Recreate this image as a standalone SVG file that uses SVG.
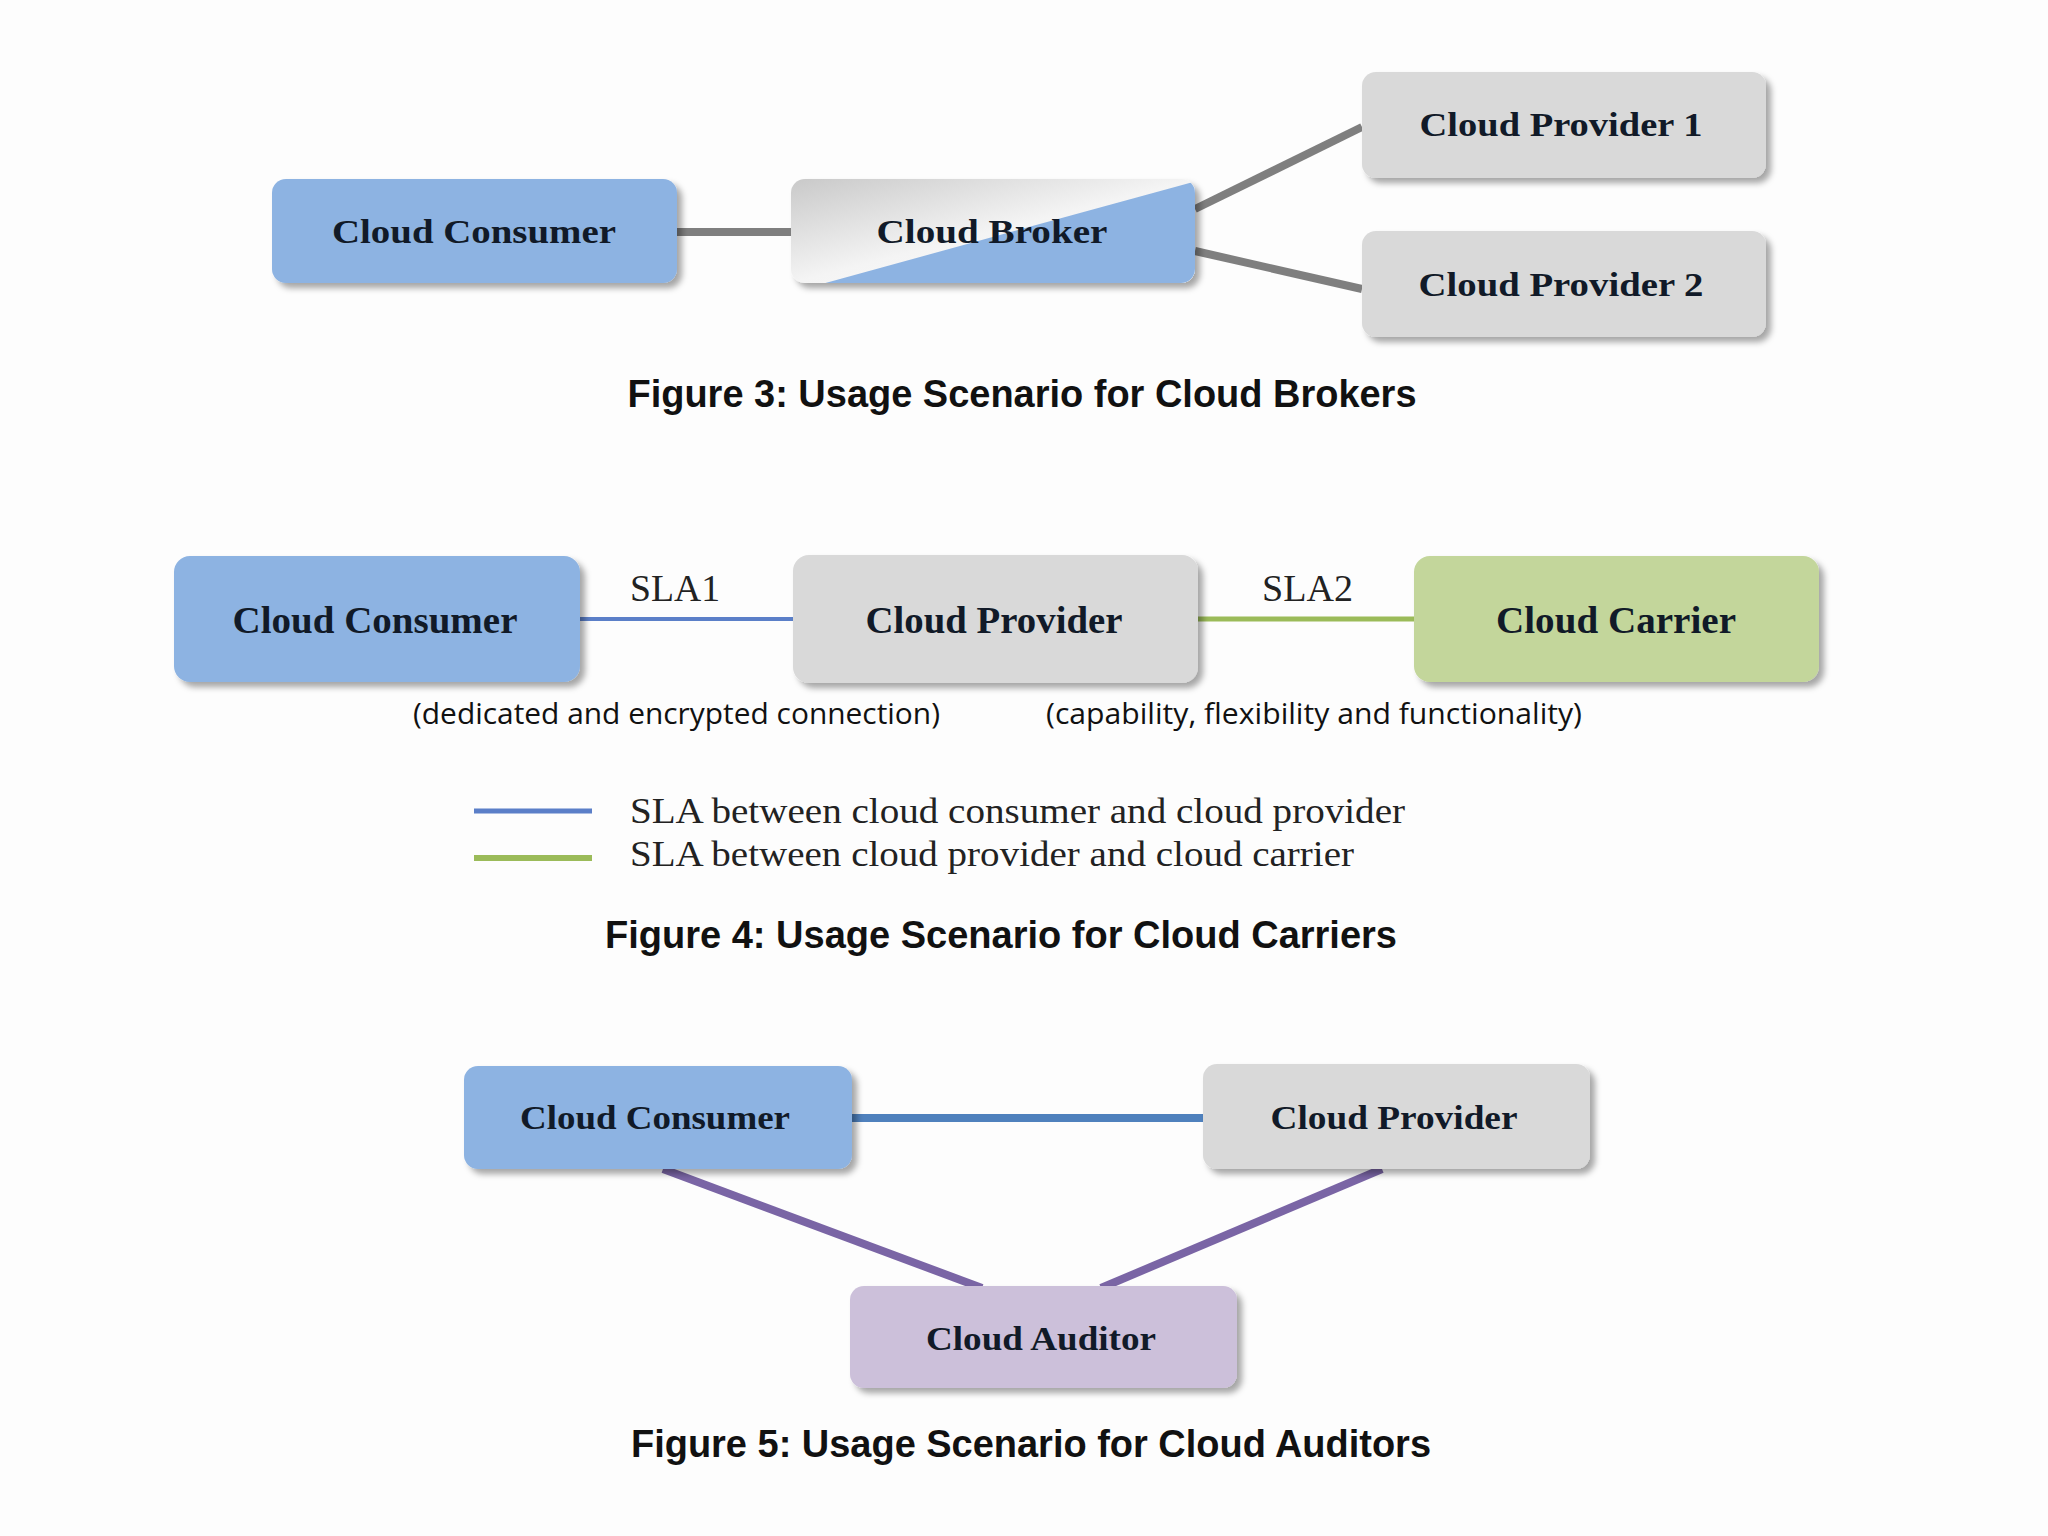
<svg xmlns="http://www.w3.org/2000/svg" width="2048" height="1536" viewBox="0 0 2048 1536">
<defs>
<filter id="sh" x="-10%" y="-20%" width="125%" height="150%">
<feDropShadow dx="5" dy="5" stdDeviation="3" flood-color="#000" flood-opacity="0.35"/>
</filter>
<linearGradient id="gBroker" x1="0" y1="0" x2="1" y2="1">
<stop offset="0" stop-color="#c9c9c9"/>
<stop offset="0.5" stop-color="#f4f4f4"/>
<stop offset="1" stop-color="#ffffff"/>
</linearGradient>
<clipPath id="cBroker"><rect x="791" y="179" width="404" height="104" rx="14"/></clipPath>
<style>
.blue{fill:#8db3e2}
.gray{fill:#d9d9d9}
.green{fill:#c3d69b}
.purple{fill:#ccc0da}
.nt{font-family:"Liberation Serif",serif;font-weight:bold;fill:#111a28;text-anchor:middle}
.cap{font-family:"Liberation Sans",Arial,sans-serif;font-weight:bold;font-size:38px;fill:#111;text-anchor:middle}
.sla{font-family:"Liberation Serif",serif;font-size:38px;fill:#222}
.note{font-family:"Open Sans","Liberation Sans",sans-serif;font-size:30px;fill:#111}
.leg{font-family:"Liberation Serif",serif;font-size:36px;fill:#222}
.c-gray{stroke:#7f7f7f;stroke-width:8;fill:none}
</style>
</defs>
<rect width="2048" height="1536" fill="#fdfdfd"/>

<!-- Figure 3 -->
<g id="connectors-fig3">
<line class="c-gray" x1="677" y1="232" x2="791" y2="232"/>
<line class="c-gray" x1="1195" y1="209" x2="1362" y2="127"/>
<line class="c-gray" x1="1195" y1="251" x2="1362" y2="289"/>
</g>
<g id="fig3-consumer">
<rect class="blue" x="272" y="179" width="405" height="104" rx="14" filter="url(#sh)"/>
<text class="nt" x="474" y="243" font-size="34" textLength="284" lengthAdjust="spacingAndGlyphs">Cloud Consumer</text>
</g>
<g id="fig3-broker">
<rect x="791" y="179" width="404" height="104" rx="14" fill="url(#gBroker)" filter="url(#sh)"/>
<polygon points="800,290 1200,180 1200,290" fill="#8db3e2" clip-path="url(#cBroker)"/>
<text class="nt" x="992" y="243" font-size="34" textLength="231" lengthAdjust="spacingAndGlyphs">Cloud Broker</text>
</g>
<g id="fig3-provider1">
<rect class="gray" x="1362" y="72" width="404" height="106" rx="14" filter="url(#sh)"/>
<text class="nt" x="1561" y="136" font-size="34" textLength="283" lengthAdjust="spacingAndGlyphs">Cloud Provider 1</text>
</g>
<g id="fig3-provider2">
<rect class="gray" x="1362" y="231" width="404" height="106" rx="14" filter="url(#sh)"/>
<text class="nt" x="1561" y="296" font-size="34" textLength="285" lengthAdjust="spacingAndGlyphs">Cloud Provider 2</text>
</g>
<text class="cap" x="1022" y="407" textLength="789" lengthAdjust="spacingAndGlyphs">Figure 3: Usage Scenario for Cloud Brokers</text>

<!-- Figure 4 -->
<g id="connectors-fig4">
<line x1="580" y1="619" x2="793" y2="619" stroke="#5b7fc8" stroke-width="4"/>
<line x1="1198" y1="619" x2="1414" y2="619" stroke="#9bbb59" stroke-width="5"/>
</g>
<text class="sla" x="630" y="601" textLength="90" lengthAdjust="spacingAndGlyphs">SLA1</text>
<text class="sla" x="1262" y="601" textLength="91" lengthAdjust="spacingAndGlyphs">SLA2</text>
<g id="fig4-consumer">
<rect class="blue" x="174" y="556" width="406" height="126" rx="16" filter="url(#sh)"/>
<text class="nt" x="375" y="633" font-size="37" textLength="285" lengthAdjust="spacingAndGlyphs">Cloud Consumer</text>
</g>
<g id="fig4-provider">
<rect class="gray" x="793" y="555" width="405" height="128" rx="16" filter="url(#sh)"/>
<text class="nt" x="994" y="633" font-size="37" textLength="257" lengthAdjust="spacingAndGlyphs">Cloud Provider</text>
</g>
<g id="fig4-carrier">
<rect class="green" x="1414" y="556" width="405" height="126" rx="16" filter="url(#sh)"/>
<text class="nt" x="1616" y="633" font-size="37" textLength="240" lengthAdjust="spacingAndGlyphs">Cloud Carrier</text>
</g>
<text class="note" x="413" y="724" textLength="527" lengthAdjust="spacingAndGlyphs">(dedicated and encrypted connection)</text>
<text class="note" x="1046" y="724" textLength="536" lengthAdjust="spacingAndGlyphs">(capability, flexibility and functionality)</text>
<g id="legend">
<line x1="474" y1="811" x2="592" y2="811" stroke="#5b7fc8" stroke-width="5"/>
<line x1="474" y1="858" x2="592" y2="858" stroke="#9bbb59" stroke-width="6"/>
<text class="leg" x="630" y="823" textLength="775" lengthAdjust="spacingAndGlyphs">SLA between cloud consumer and cloud provider</text>
<text class="leg" x="630" y="866" textLength="724" lengthAdjust="spacingAndGlyphs">SLA between cloud provider and cloud carrier</text>
</g>
<text class="cap" x="1001" y="948" textLength="792" lengthAdjust="spacingAndGlyphs">Figure 4: Usage Scenario for Cloud Carriers</text>

<!-- Figure 5 -->
<g id="connectors-fig5">
<line x1="852" y1="1118" x2="1203" y2="1118" stroke="#4f81bd" stroke-width="8"/>
<line x1="663" y1="1169" x2="982" y2="1288" stroke="#7a65a5" stroke-width="8"/>
<line x1="1382" y1="1169" x2="1101" y2="1288" stroke="#7a65a5" stroke-width="8"/>
</g>
<g id="fig5-consumer">
<rect class="blue" x="464" y="1066" width="388" height="103" rx="14" filter="url(#sh)"/>
<text class="nt" x="655" y="1129" font-size="34" textLength="270" lengthAdjust="spacingAndGlyphs">Cloud Consumer</text>
</g>
<g id="fig5-provider">
<rect class="gray" x="1203" y="1064" width="387" height="105" rx="14" filter="url(#sh)"/>
<text class="nt" x="1394" y="1129" font-size="34" textLength="247" lengthAdjust="spacingAndGlyphs">Cloud Provider</text>
</g>
<g id="fig5-auditor">
<rect class="purple" x="850" y="1286" width="387" height="102" rx="14" filter="url(#sh)"/>
<text class="nt" x="1041" y="1350" font-size="34" textLength="230" lengthAdjust="spacingAndGlyphs">Cloud Auditor</text>
</g>
<text class="cap" x="1031" y="1457" textLength="800" lengthAdjust="spacingAndGlyphs">Figure 5: Usage Scenario for Cloud Auditors</text>
</svg>
